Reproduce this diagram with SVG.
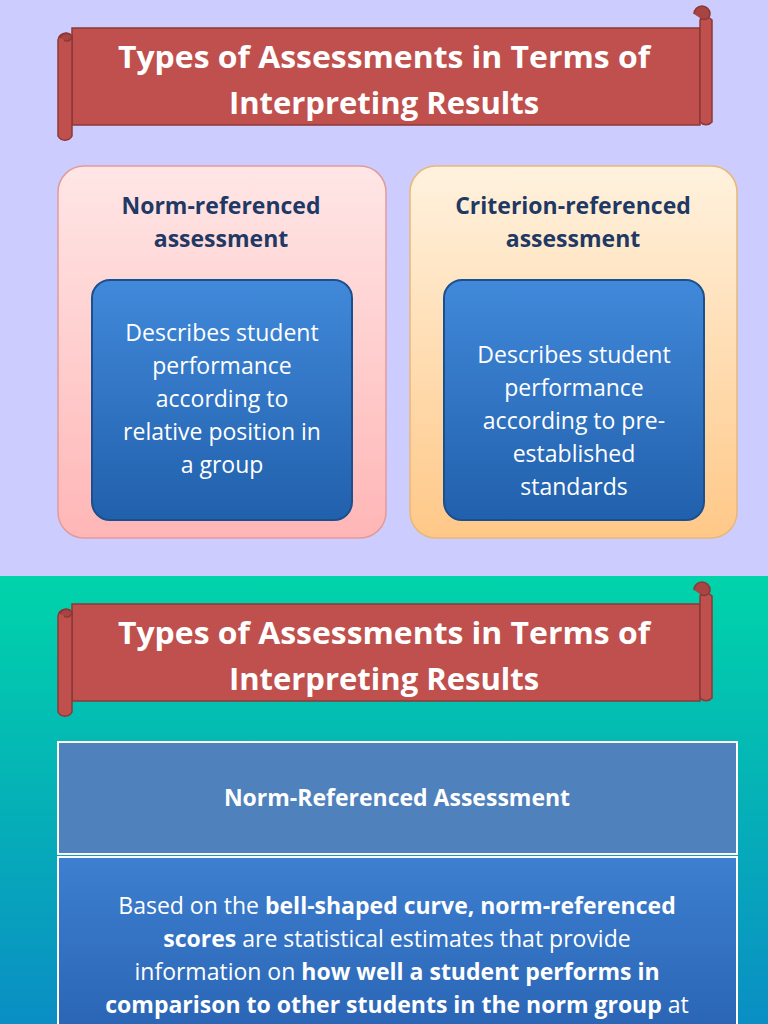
<svg xmlns="http://www.w3.org/2000/svg" width="768" height="1024" viewBox="0 0 768 1024">
<defs>
<linearGradient id="bg2" x1="0" y1="0" x2="0" y2="1"><stop offset="0" stop-color="#00d4aa"/><stop offset="1" stop-color="#0a8ec4"/></linearGradient>
<linearGradient id="pink" x1="0" y1="0" x2="0" y2="1"><stop offset="0" stop-color="#ffe6e6"/><stop offset="1" stop-color="#ffb6b6"/></linearGradient>
<linearGradient id="orng" x1="0" y1="0" x2="0" y2="1"><stop offset="0" stop-color="#fff2de"/><stop offset="1" stop-color="#ffc888"/></linearGradient>
<linearGradient id="blue" x1="0" y1="0" x2="0" y2="1"><stop offset="0" stop-color="#4189da"/><stop offset="1" stop-color="#2160ac"/></linearGradient>
<linearGradient id="blue2" x1="0" y1="0" x2="0" y2="1"><stop offset="0" stop-color="#3d7fd0"/><stop offset="1" stop-color="#2a64b4"/></linearGradient>
<g id="scroll">
<path d="M72,28 H700 V125 H72 Z" fill="#c0504d" stroke="#8c3836" stroke-width="1.5"/>
<path d="M700,20 a8,8 0 0 1 12,0 V122 a8,8 0 0 1 -12,0 Z" fill="#c0504d" stroke="#8c3836" stroke-width="1.5"/>
<path d="M694,14 a8,8 0 0 1 16,0 a6,6 0 0 1 -10,4" fill="#a84442" stroke="#8c3836" stroke-width="1.5"/>
<path d="M58,40 a8,8 0 0 1 14,-4 V136 a8,8 0 0 1 -14,0 Z" fill="#c0504d" stroke="#8c3836" stroke-width="1.5"/>
<path d="M60,38 a7,7 0 0 1 12,-2 a5,5 0 0 1 -8,4" fill="#a84442" stroke="#8c3836" stroke-width="1.5"/>
</g>
</defs>
<style>
.t{font-family:"Open Sans",Lato,sans-serif;fill:#fff;font-weight:bold;font-size:31px;text-anchor:middle}
.h{font-family:"Open Sans",Lato,sans-serif;fill:#1f3864;font-weight:bold;font-size:23px;text-anchor:middle}
.w{font-family:"Open Sans",Lato,sans-serif;fill:#fff;font-size:23px;text-anchor:middle}
.b{font-weight:bold}
</style>
<rect x="0" y="0" width="768" height="576" fill="#ccccfe"/>
<rect x="0" y="576" width="768" height="448" fill="url(#bg2)"/>
<g id="banner1"><use href="#scroll"/>
<text class="t" x="384" y="68" textLength="532" lengthAdjust="spacingAndGlyphs">Types of Assessments in Terms of</text>
<text class="t" x="384" y="114">Interpreting Results</text></g>
<g id="norm">
<rect x="58" y="166" width="328" height="372" rx="26" fill="url(#pink)" stroke="#e39a9a" stroke-width="1.5"/>
<text class="h" x="221" y="214">Norm-referenced</text>
<text class="h" x="221" y="247">assessment</text></g>
<g id="crit">
<rect x="410" y="166" width="327" height="372" rx="26" fill="url(#orng)" stroke="#e8b878" stroke-width="1.5"/>
<text class="h" x="573" y="214">Criterion-referenced</text>
<text class="h" x="573" y="247">assessment</text></g>
<g id="normdesc">
<rect x="92" y="280" width="260" height="240" rx="18" fill="url(#blue)" stroke="#1c4f8e" stroke-width="2"/>
<text class="w" x="222" y="341">Describes student</text>
<text class="w" x="222" y="374">performance</text>
<text class="w" x="222" y="407">according to</text>
<text class="w" x="222" y="440">relative position in</text>
<text class="w" x="222" y="473">a group</text></g>
<g id="critdesc">
<rect x="444" y="280" width="260" height="240" rx="18" fill="url(#blue)" stroke="#1c4f8e" stroke-width="2"/>
<text class="w" x="574" y="363">Describes student</text>
<text class="w" x="574" y="396">performance</text>
<text class="w" x="574" y="429">according to pre-</text>
<text class="w" x="574" y="462">established</text>
<text class="w" x="574" y="495">standards</text></g>
<g id="banner2"><use href="#scroll" y="576"/>
<text class="t" x="384" y="644" textLength="532" lengthAdjust="spacingAndGlyphs">Types of Assessments in Terms of</text>
<text class="t" x="384" y="690">Interpreting Results</text></g>
<g id="nra">
<rect x="58" y="742" width="679" height="112" fill="#4f81bd" stroke="#fff" stroke-width="2"/>
<text class="w b" x="397" y="806">Norm-Referenced Assessment</text></g>
<g id="nradesc">
<rect x="58" y="857" width="679" height="180" fill="url(#blue2)" stroke="#fff" stroke-width="2"/>
<text class="w" x="397" y="914">Based on the <tspan class="b">bell-shaped curve, norm-referenced</tspan></text>
<text class="w" x="397" y="947"><tspan class="b">scores</tspan> are statistical estimates that provide</text>
<text class="w" x="397" y="980">information on <tspan class="b">how well a student performs in</tspan></text>
<text class="w" x="397" y="1013"><tspan class="b">comparison to other students in the norm group</tspan> at</text></g>
<g id="connectors"/>
</svg>
